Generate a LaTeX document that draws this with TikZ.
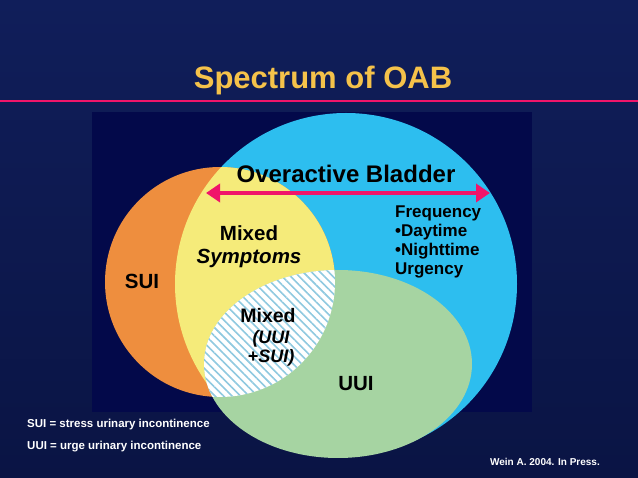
\documentclass[tikz,border=0pt]{standalone}
\usepackage{fontspec}
\setmainfont{Liberation Sans}
\usetikzlibrary{patterns.meta,arrows.meta}
\definecolor{bgtop}{HTML}{101E5A}
\definecolor{bgbot}{HTML}{0A1444}
\definecolor{inner}{HTML}{03094A}
\definecolor{oabblue}{HTML}{2DBEEF}
\definecolor{suiorange}{HTML}{EE8E3E}
\definecolor{mixyellow}{HTML}{F5EB7A}
\definecolor{uuigreen}{HTML}{A6D4A2}
\definecolor{hotpink}{HTML}{F0156A}
\definecolor{gold}{HTML}{F5C24A}
\definecolor{hatchblue}{HTML}{8FC9E0}
\tikzset{
  lbl/.style={font=\bfseries, text=black, inner sep=0pt, align=center},
  foot/.style={font=\bfseries\fontsize{11.5}{13}\selectfont, text=white, inner sep=0pt, anchor=west},
}
\begin{document}
\begin{tikzpicture}[x=1pt,y=-1pt]
\useasboundingbox (0,0) rectangle (638,478);
\shade[top color=bgtop, bottom color=bgbot] (0,0) rectangle (638,478);
\fill[inner] (92,112) rectangle (532,412);
\draw[hotpink, line width=2pt] (0,101) -- (638,101);
\node[font=\bfseries\fontsize{31}{35}\selectfont, text=gold] (title) at (323,80) {Spectrum of OAB};
% shapes
\fill[oabblue] (346,284) circle (171);
\fill[suiorange] (220,282) circle (115);
\begin{scope}
  \clip (220,282) circle (115);
  \fill[mixyellow] (346,284) circle (171);
\end{scope}
\fill[uuigreen] (338,364) ellipse [x radius=134, y radius=94];
\begin{scope}
  \clip (220,282) circle (115);
  \fill[white] (338,364) ellipse [x radius=134, y radius=94];
  \fill[pattern={Lines[angle=-45,distance=6pt,line width=1.6pt]}, pattern color=hatchblue] (338,364) ellipse [x radius=134, y radius=94];
\end{scope}
% labels
\node[lbl, font=\bfseries\fontsize{24}{28}\selectfont] (oab) at (346,174) {Overactive Bladder};
\coordinate (al) at (206,193);
\coordinate (ar) at (490,193);
\draw[hotpink, line width=4.5pt, {Triangle[length=14pt,width=18pt]}-{Triangle[length=14pt,width=18pt]}] (al) -- (ar);
\node[lbl, font=\bfseries\fontsize{17}{19}\selectfont, align=left, anchor=north west] (freq) at (395,206) {Frequency\\•Daytime\\•Nighttime\\Urgency};
\node[lbl, font=\bfseries\fontsize{20.5}{23}\selectfont] (mixs) at (249,247) {Mixed\\\itshape Symptoms};
\node[lbl, font=\bfseries\fontsize{20.5}{23}\selectfont] (sui) at (142,281) {SUI};
\node[lbl, font=\bfseries\fontsize{19.5}{21}\selectfont] (mixed) at (268,316) {Mixed};
\node[lbl, font=\bfseries\itshape\fontsize{18}{19}\selectfont] (mixu) at (271,348) {(UUI\\+SUI)};
\node[lbl, font=\bfseries\fontsize{20.5}{23}\selectfont] (uui) at (356,384) {UUI};
\node[foot] (f1) at (27,425) {SUI = stress urinary incontinence};
\node[foot] (f2) at (27,447) {UUI = urge urinary incontinence};
\node[font=\bfseries\fontsize{10}{12}\selectfont, text=white, inner sep=0pt, anchor=east] (cite) at (600,462) {Wein A. 2004. In Press.};
\end{tikzpicture}
\end{document}
